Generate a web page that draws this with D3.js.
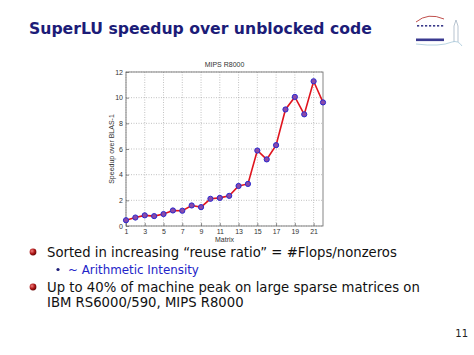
<!DOCTYPE html>
<html>
<head>
<meta charset="utf-8">
<script src="https://cdn.jsdelivr.net/npm/d3@7"></script>
<style>
  body { margin: 0; background: #fff; }
  svg { display: block; }
</style>
</head>
<body>
<div id="slide"></div>
<script>
// speedup over BLAS-1, matrices sorted by reuse ratio
const matrices = d3.range(1, 23)
const speedup = [0.45, 0.66, 0.83, 0.77, 0.93, 1.21, 1.19, 1.6, 1.47, 2.12, 2.19, 2.35,
    3.12, 3.28, 5.88, 5.19, 6.3, 9.08, 10.06, 8.7, 11.28, 9.63]
const xTicks = [1, 3, 5, 7, 9, 11, 13, 15, 17, 19, 21]
const yTicks = [0, 2, 4, 6, 8, 10, 12]

const width = 474
const height = 355
const plot = { left: 126, right: 323, top: 72, bottom: 226 }

const svg = d3.select("#slide")
    .append("svg")
    .attr("width", width)
    .attr("height", height)

const grad = svg.append("defs").append("radialGradient")
    .attr("id", "ball")
    .attr("cx", "35%").attr("cy", "35%").attr("r", "65%")
grad.append("stop").attr("offset", "0%").attr("stop-color", "#f08080")
grad.append("stop").attr("offset", "60%").attr("stop-color", "#b01818")
grad.append("stop").attr("offset", "100%").attr("stop-color", "#6a0808")

// fit a text element to a width by changing its font size
function fit(sel, w) {
    const len = sel.node().getComputedTextLength()
    const fs = parseFloat(sel.attr("font-size"))
    sel.attr("font-size", fs * w / len)
}

svg.append("text")
    .attr("x", 29)
    .attr("y", 34)
    .attr("font-family", "DejaVu Sans")
    .attr("font-weight", "bold")
    .attr("font-size", 15)
    .attr("fill", "#1c1c78")
    .text("SuperLU speedup over unblocked code")
    .call(fit, 343)

// rough Berkeley Lab logo
const logo = svg.append("g")
logo.append("path")
    .attr("d", "M416,22 Q428,12 444,19")
    .attr("fill", "none")
    .attr("stroke", "#c0504d")
    .attr("stroke-width", 1)
logo.selectAll("rect.win")
    .data(d3.range(7))
    .join("rect")
    .attr("class", "win")
    .attr("x", d => 417 + d * 4)
    .attr("y", 25)
    .attr("width", 2.2)
    .attr("height", 1.6)
    .attr("fill", "#3a3a8a")
logo.append("rect")
    .attr("x", 416)
    .attr("y", 38.5)
    .attr("width", 28)
    .attr("height", 2.6)
    .attr("fill", "#3a3a90")
logo.append("path")
    .attr("d", "M454,42 L454,26 L456,20 L458,26 L458,42")
    .attr("fill", "none")
    .attr("stroke", "#99aabb")
    .attr("stroke-width", 0.7)
logo.append("path")
    .attr("d", "M416,44 Q440,47 452,42 Q458,40 462,46")
    .attr("fill", "none")
    .attr("stroke", "#9ac0d4")
    .attr("stroke-width", 0.7)

// chart
const xScale = d3.scaleLinear()
    .domain([1, 22])
    .range([plot.left, plot.right])

const yScale = d3.scaleLinear()
    .domain([0, 12])
    .range([plot.bottom, plot.top])

const chart = svg.append("g")
    .attr("font-family", "Liberation Sans, Arial, sans-serif")

chart.selectAll("line.vgrid")
    .data(xTicks)
    .join("line")
    .attr("class", "vgrid")
    .attr("x1", d => xScale(d))
    .attr("x2", d => xScale(d))
    .attr("y1", plot.top)
    .attr("y2", plot.bottom)
    .attr("stroke", "#999")
    .attr("stroke-width", 0.6)
    .attr("stroke-dasharray", "1,1.5")

chart.selectAll("line.hgrid")
    .data(yTicks)
    .join("line")
    .attr("class", "hgrid")
    .attr("x1", plot.left)
    .attr("x2", plot.right)
    .attr("y1", d => yScale(d))
    .attr("y2", d => yScale(d))
    .attr("stroke", "#999")
    .attr("stroke-width", 0.6)
    .attr("stroke-dasharray", "1,1.5")

const xAxis = chart.append("g")
    .attr("transform", `translate(0,${plot.bottom})`)
    .call(d3.axisBottom(xScale).tickValues(xTicks).tickSize(-3).tickPadding(3))
const yAxis = chart.append("g")
    .attr("transform", `translate(${plot.left},0)`)
    .call(d3.axisLeft(yScale).tickValues(yTicks).tickSize(-3).tickPadding(3))

for (const ax of [xAxis, yAxis]) {
    ax.select(".domain").remove()
    ax.selectAll("line").attr("stroke", "#444").attr("stroke-width", 0.6)
    ax.selectAll("text").attr("font-size", 7).attr("fill", "#333")
        .attr("font-family", "Liberation Sans, Arial, sans-serif")
}

chart.append("rect")
    .attr("x", plot.left)
    .attr("y", plot.top)
    .attr("width", plot.right - plot.left)
    .attr("height", plot.bottom - plot.top)
    .attr("fill", "none")
    .attr("stroke", "#666")
    .attr("stroke-width", 0.8)

const line = d3.line()
    .x((d, i) => xScale(matrices[i]))
    .y(d => yScale(d))

chart.append("path")
    .datum(speedup)
    .attr("d", line)
    .attr("fill", "none")
    .attr("stroke", "#e0141e")
    .attr("stroke-width", 1.6)

chart.selectAll("circle")
    .data(speedup)
    .join("circle")
    .attr("cx", (d, i) => xScale(matrices[i]))
    .attr("cy", d => yScale(d))
    .attr("r", 2.6)
    .attr("fill", "#8a4aa8")
    .attr("stroke", "#2a2ad0")
    .attr("stroke-width", 1)

chart.append("text")
    .attr("x", (plot.left + plot.right) / 2)
    .attr("y", 67)
    .attr("text-anchor", "middle")
    .attr("font-size", 7)
    .attr("fill", "#333")
    .text("MIPS R8000")

chart.append("text")
    .attr("x", (plot.left + plot.right) / 2)
    .attr("y", 241.5)
    .attr("text-anchor", "middle")
    .attr("font-size", 7)
    .attr("fill", "#333")
    .text("Matrix")

chart.append("text")
    .attr("transform", `translate(114,${(plot.top + plot.bottom) / 2}) rotate(-90)`)
    .attr("text-anchor", "middle")
    .attr("font-size", 7)
    .attr("fill", "#333")
    .text("Speedup over BLAS-1")

// bullets
const bullets = [
    { text: "Sorted in increasing \u201creuse ratio\u201d = #Flops/nonzeros", y: 257, w: 350 },
    { text: "Up to 40% of machine peak on large sparse matrices on", y: 292, w: 373 },
]
const body = svg.append("g").attr("font-family", "DejaVu Sans")

body.selectAll("circle.bullet")
    .data(bullets)
    .join("circle")
    .attr("class", "bullet")
    .attr("cx", 33)
    .attr("cy", d => d.y - 5)
    .attr("r", 3.4)
    .attr("fill", "url(#ball)")

body.selectAll("text.bullet")
    .data(bullets)
    .join("text")
    .attr("class", "bullet")
    .attr("x", 47)
    .attr("y", d => d.y)
    .attr("font-size", 14)
    .attr("fill", "#111")
    .text(d => d.text)
    .each(function(d) { fit(d3.select(this), d.w) })

body.append("text")
    .attr("x", 47)
    .attr("y", 307)
    .attr("font-size", body.select("text.bullet").attr("font-size"))
    .attr("fill", "#111")
    .text("IBM RS6000/590, MIPS R8000")

body.append("circle")
    .attr("cx", 58)
    .attr("cy", 269.5)
    .attr("r", 1.6)
    .attr("fill", "#1c1c78")

body.append("text")
    .attr("x", 68)
    .attr("y", 273.5)
    .attr("font-size", 11)
    .attr("fill", "#2323c8")
    .text("~ Arithmetic Intensity")
    .call(fit, 131)

svg.append("text")
    .attr("x", 468)
    .attr("y", 337)
    .attr("text-anchor", "end")
    .attr("font-family", "DejaVu Sans")
    .attr("font-size", 10)
    .attr("fill", "#222")
    .text("11")
</script>
</body>
</html>
